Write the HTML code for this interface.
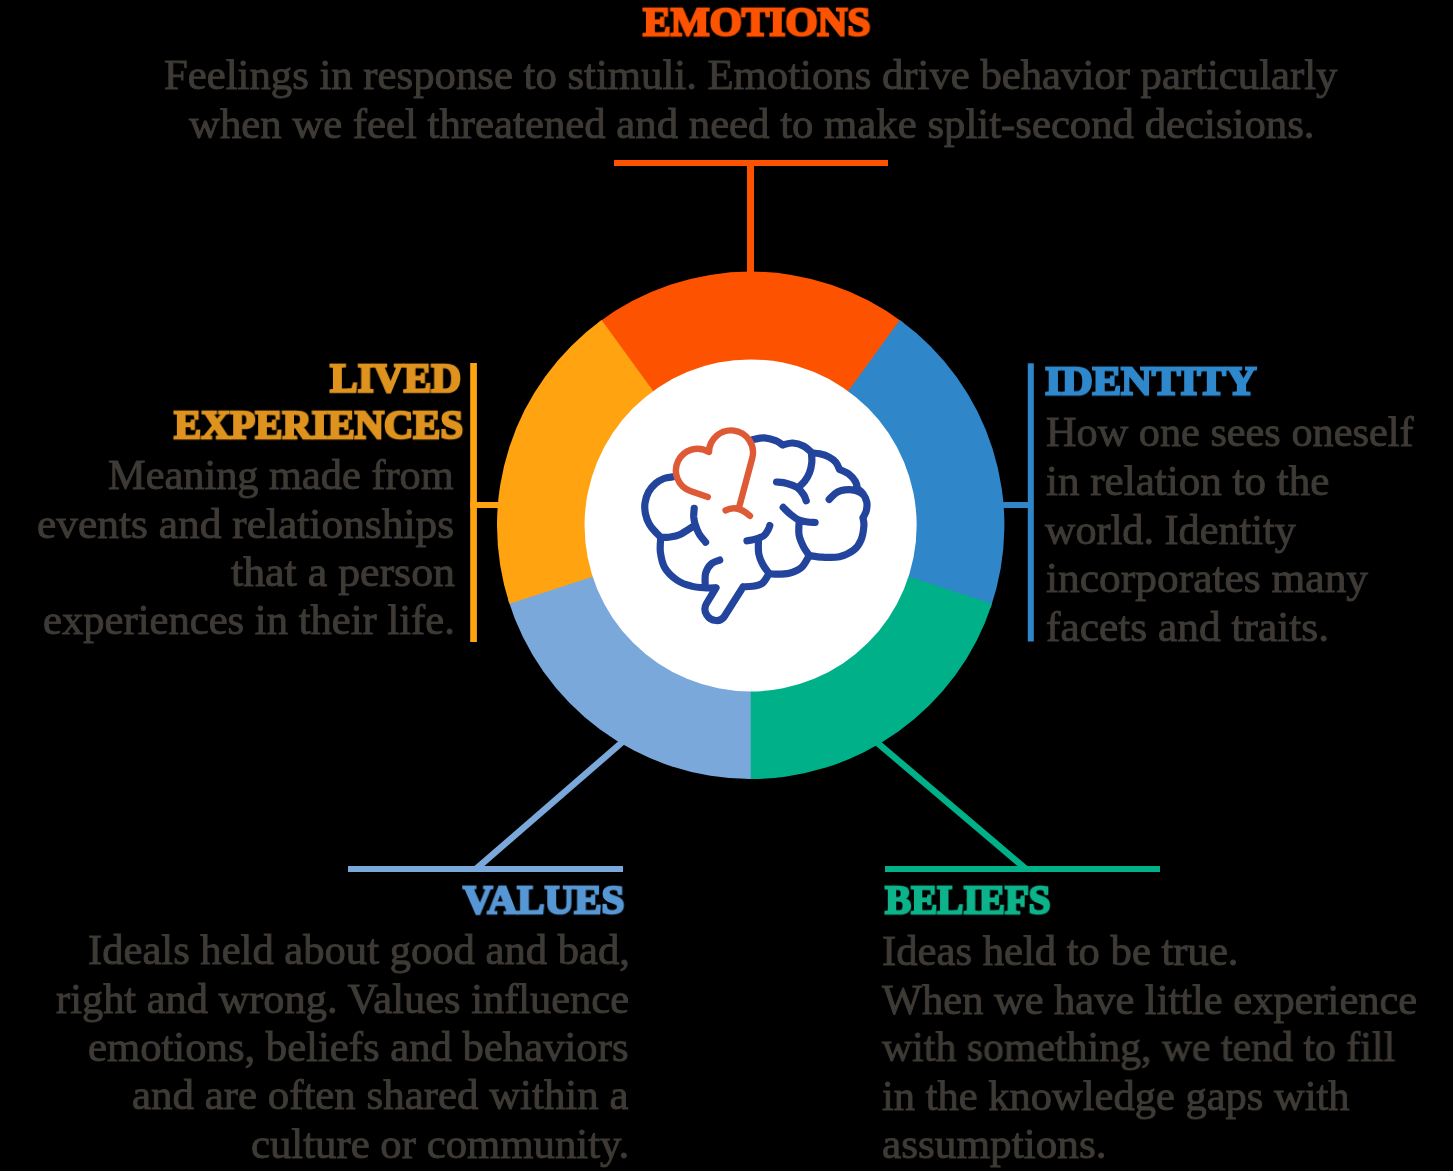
<!DOCTYPE html>
<html><head><meta charset="utf-8"><style>
html,body{margin:0;padding:0;background:#000;}
body{width:1453px;height:1171px;position:relative;overflow:hidden;font-family:'Liberation Serif', serif;}
.t div{position:absolute;white-space:nowrap;line-height:1;transform-origin:0 0;will-change:transform;}
svg{position:absolute;left:0;top:0;}
</style></head><body>
<svg width="1453" height="1171" viewBox="0 0 1453 1171">

<rect x="614" y="160" width="274" height="6" fill="#fd5300"/>
<rect x="747" y="160" width="7" height="130" fill="#fd5300"/>
<rect x="470.2" y="363" width="6.7" height="279" fill="#ffa311"/>
<rect x="470.2" y="502" width="40" height="6" fill="#ffa311"/>
<rect x="1027.8" y="363.3" width="6" height="278.2" fill="#2f86c9"/>
<rect x="990" y="502" width="40" height="6" fill="#2f86c9"/>
<rect x="348" y="866" width="275" height="6" fill="#7ba8da"/>
<line x1="475.4" y1="869.5" x2="640.4" y2="726.4" stroke="#7ba8da" stroke-width="6.5"/>
<rect x="885" y="866" width="275" height="6" fill="#00b088"/>
<line x1="1026.5" y1="869.5" x2="857.5" y2="726" stroke="#00b088" stroke-width="6.5"/>

<path d="M750.7 525.3 L598.02 322.69 A253.7 253.7 0 0 1 903.38 322.69 Z" fill="#fd5300"/><path d="M750.7 525.3 L899.82 320.05 A253.7 253.7 0 0 1 990.58 607.90 Z" fill="#2f86c9"/><path d="M750.7 525.3 L991.98 603.70 A253.7 253.7 0 0 1 746.27 778.96 Z" fill="#00b088"/><path d="M750.7 525.3 L750.70 779.00 A253.7 253.7 0 0 1 508.09 599.47 Z" fill="#7ba8da"/><path d="M750.7 525.3 L509.42 603.70 A253.7 253.7 0 0 1 601.58 320.05 Z" fill="#ffa311"/><circle cx="750.6" cy="525.45" r="166.05" fill="#fff"/>
<path d="M673.0 476.8 C671.5 477.1 666.9 477.4 664.0 478.5 C661.1 479.6 658.1 481.2 655.5 483.5 C652.9 485.8 650.2 488.8 648.5 492.0 C646.8 495.2 645.5 499.3 645.0 503.0 C644.5 506.7 644.8 510.4 645.5 514.0 C646.2 517.6 647.8 521.5 649.5 524.5 C651.2 527.5 653.6 529.9 655.5 532.0 C657.4 534.1 659.9 536.3 660.8 537.2 M660.8 537.2 C660.7 539.7 659.7 547.1 660.4 552.3 C661.1 557.5 662.2 563.5 665.0 568.2 C667.8 572.9 672.9 577.4 677.3 580.4 C681.7 583.4 686.4 584.9 691.3 586.1 C696.1 587.4 702.3 587.6 706.4 587.9 C710.5 588.2 714.4 587.8 716.0 587.8 M743.2 586.8 C744.8 586.7 749.5 586.8 752.6 586.3 C755.7 585.8 759.5 585.2 762.0 583.5 C764.5 581.8 766.5 577.7 767.6 576.0 C768.7 574.3 768.4 573.7 768.6 573.2 M768.6 573.2 C769.7 573.4 771.7 574.1 775.1 574.1 C778.5 574.1 784.8 574.3 789.2 573.2 C793.6 572.1 798.1 570.4 801.4 567.6 C804.7 564.8 807.6 558.2 808.9 556.3 M809.0 555.5 C811.3 555.8 817.5 557.0 822.6 557.2 C827.7 557.4 834.3 557.9 839.5 556.7 C844.7 555.5 850.0 553.0 853.6 550.2 C857.2 547.4 859.4 543.9 861.1 539.8 C862.8 535.7 863.6 529.4 863.9 525.7 C864.2 522.0 863.1 519.1 863.0 517.8 M863.0 517.8 C863.5 516.6 865.7 513.3 866.3 510.7 C866.9 508.1 867.3 505.1 866.8 502.3 C866.2 499.5 864.6 496.1 863.0 493.8 C861.4 491.5 858.3 489.5 857.4 488.6 M857.4 488.6 C857.1 487.4 856.9 484.0 855.5 481.6 C854.1 479.2 851.6 476.1 848.9 474.1 C846.2 472.1 841.1 470.2 839.5 469.4 M839.5 469.4 C838.9 468.2 837.5 464.4 835.8 462.3 C834.1 460.2 831.9 458.5 829.2 457.1 C826.5 455.7 822.8 454.5 819.8 453.8 C816.8 453.1 812.8 453.0 811.4 452.8 M811.4 452.4 C810.1 451.4 807.0 447.9 803.9 446.3 C800.8 444.7 796.1 443.2 792.6 443.0 C789.1 442.8 784.4 444.6 782.7 444.9 M782.7 444.9 C781.5 444.2 778.8 441.9 775.7 440.7 C772.7 439.5 768.3 438.0 764.4 437.8 C760.5 437.6 754.2 439.4 752.2 439.7 M694.2 508.3 C694.1 509.7 693.6 514.1 693.7 516.7 C693.9 519.3 694.2 521.3 695.1 524.1 C696.0 526.9 697.1 530.5 698.9 533.5 C700.6 536.5 704.5 540.8 705.6 542.2 M660.8 537.2 C662.0 537.2 665.1 537.7 668.3 537.2 C671.5 536.7 675.8 536.4 680.1 534.4 C684.4 532.4 691.9 527.0 694.3 525.5 M719.7 560.1 C718.3 560.7 713.6 561.6 711.3 563.8 C708.9 566.0 706.6 569.6 705.6 573.2 C704.6 576.8 705.3 583.4 705.2 585.4 M747.0 540.8 C748.2 540.6 751.7 540.3 754.5 539.4 C757.3 538.5 761.6 537.2 763.9 535.6 C766.2 534.0 767.3 531.2 768.3 529.5 C769.3 527.8 769.5 526.2 769.8 525.5 M758.5 539.4 C758.5 541.8 758.0 549.3 758.7 553.5 C759.4 557.7 761.2 561.5 762.9 564.7 C764.5 567.9 767.6 571.4 768.6 572.7 M776.6 482.0 C778.3 482.2 783.5 482.5 787.0 483.4 C790.5 484.3 794.5 485.7 797.3 487.6 C800.1 489.6 802.4 492.9 803.9 495.1 C805.4 497.3 805.8 499.9 806.2 500.8 M811.4 452.9 C811.5 454.5 812.1 459.0 811.8 462.3 C811.5 465.6 810.7 469.5 809.5 472.6 C808.3 475.7 806.7 478.5 804.8 481.0 C802.9 483.5 799.3 486.5 798.2 487.6 M783.2 507.4 C784.5 508.6 788.1 512.4 790.7 514.5 C793.4 516.6 796.3 518.9 799.1 520.1 C801.9 521.4 804.9 521.6 807.6 522.0 C810.3 522.4 813.9 522.4 815.1 522.5 M799.1 522.0 C799.1 524.2 798.3 530.9 799.1 535.1 C799.9 539.3 802.1 544.0 803.8 547.3 C805.4 550.6 808.1 553.7 809.0 555.0 M829.2 499.4 C830.1 498.5 832.8 495.3 834.8 493.8 C836.8 492.3 839.0 491.2 841.4 490.5 C843.8 489.8 846.5 489.6 848.9 489.6 C851.2 489.6 853.6 490.0 855.5 490.5 C857.4 491.0 859.2 491.9 860.5 492.6 C861.8 493.4 863.0 494.6 863.5 495.0 M716 587.8 L706.5 603.5 C702 611 708 620 716 620.5 C719.5 620.8 722.3 619.2 724 617 L743.2 586.8" fill="none" stroke="#22449c" stroke-width="7.2" stroke-linecap="round" stroke-linejoin="round"/>
<path d="M707.8 497 L690.3 490.9 A21.7 21.7 0 1 1 709.0 452.0 A22 22 0 1 1 752.3 457.9 L739.2 506.9 M725.6 510.4 Q737 504 750 515.8" fill="none" stroke="#de5a37" stroke-width="6.4" stroke-linecap="round" stroke-linejoin="round"/>
</svg>
<div class="t">
<div style="left:642.68px;top:2.12px;font-weight:700;font-size:42px;color:#fd5300;-webkit-text-stroke:2.6px #fd5300;transform:scale(0.9841,0.9563)">EMOTIONS</div>
<div style="left:164.10px;top:54.10px;font-weight:400;font-size:42px;color:#3e3a35;-webkit-text-stroke:0.9px #3e3a35;transform:scaleX(1.0172)">Feelings in response to stimuli. Emotions drive behavior particularly</div>
<div style="left:189.02px;top:102.80px;font-weight:400;font-size:42px;color:#3e3a35;-webkit-text-stroke:0.9px #3e3a35;transform:scaleX(1.0180)">when we feel threatened and need to make split-second decisions.</div>
<div style="left:329.99px;top:358.07px;font-weight:700;font-size:42px;color:#df931f;-webkit-text-stroke:2.6px #df931f;transform:scale(0.9851,0.9656)">LIVED</div>
<div style="left:174.07px;top:404.83px;font-weight:700;font-size:42px;color:#df931f;-webkit-text-stroke:2.6px #df931f;transform:scale(0.9673,0.9531)">EXPERIENCES</div>
<div style="left:108.00px;top:454.30px;font-weight:400;font-size:42px;color:#3e3a35;-webkit-text-stroke:0.9px #3e3a35;transform:scaleX(1.0082)">Meaning made from</div>
<div style="left:36.70px;top:502.60px;font-weight:400;font-size:42px;color:#3e3a35;-webkit-text-stroke:0.9px #3e3a35;transform:scaleX(1.0335)">events and relationships</div>
<div style="left:230.54px;top:550.60px;font-weight:400;font-size:42px;color:#3e3a35;-webkit-text-stroke:0.9px #3e3a35;transform:scaleX(1.0440)">that a person</div>
<div style="left:42.80px;top:599.40px;font-weight:400;font-size:42px;color:#3e3a35;-webkit-text-stroke:0.9px #3e3a35;transform:scaleX(1.0149)">experiences in their life.</div>
<div style="left:1045.12px;top:361.42px;font-weight:700;font-size:42px;color:#2f88cc;-webkit-text-stroke:2.6px #2f88cc;transform:scale(1.0186,0.9563)">IDENTITY</div>
<div style="left:1045.80px;top:411.30px;font-weight:400;font-size:42px;color:#3e3a35;-webkit-text-stroke:0.9px #3e3a35;transform:scaleX(1.0066)">How one sees oneself</div>
<div style="left:1045.80px;top:460.00px;font-weight:400;font-size:42px;color:#3e3a35;-webkit-text-stroke:0.9px #3e3a35;transform:scaleX(1.0254)">in relation to the</div>
<div style="left:1045.20px;top:508.70px;font-weight:400;font-size:42px;color:#3e3a35;-webkit-text-stroke:0.9px #3e3a35;transform:scaleX(1.0048)">world. Identity</div>
<div style="left:1045.80px;top:557.00px;font-weight:400;font-size:42px;color:#3e3a35;-webkit-text-stroke:0.9px #3e3a35;transform:scaleX(1.0343)">incorporates many</div>
<div style="left:1045.80px;top:605.70px;font-weight:400;font-size:42px;color:#3e3a35;-webkit-text-stroke:0.9px #3e3a35;transform:scaleX(1.0327)">facets and traits.</div>
<div style="left:463.06px;top:880.03px;font-weight:700;font-size:42px;color:#5697d4;-webkit-text-stroke:2.6px #5697d4;transform:scale(0.9790,0.9531)">VALUES</div>
<div style="left:88.10px;top:929.40px;font-weight:400;font-size:42px;color:#3e3a35;-webkit-text-stroke:0.9px #3e3a35;transform:scaleX(1.0143)">Ideals held about good and bad,</div>
<div style="left:56.00px;top:977.80px;font-weight:400;font-size:42px;color:#3e3a35;-webkit-text-stroke:0.9px #3e3a35;transform:scaleX(1.0101)">right and wrong. Values influence</div>
<div style="left:88.10px;top:1025.80px;font-weight:400;font-size:42px;color:#3e3a35;-webkit-text-stroke:0.9px #3e3a35;transform:scaleX(1.0162)">emotions, beliefs and behaviors</div>
<div style="left:132.30px;top:1074.00px;font-weight:400;font-size:42px;color:#3e3a35;-webkit-text-stroke:0.9px #3e3a35;transform:scaleX(1.0209)">and are often shared within a</div>
<div style="left:251.30px;top:1122.90px;font-weight:400;font-size:42px;color:#3e3a35;-webkit-text-stroke:0.9px #3e3a35;transform:scaleX(1.0178)">culture or community.</div>
<div style="left:884.83px;top:880.42px;font-weight:700;font-size:42px;color:#0db38a;-webkit-text-stroke:2.6px #0db38a;transform:scale(0.9330,0.9562)">BELIEFS</div>
<div style="left:882.20px;top:930.10px;font-weight:400;font-size:42px;color:#3e3a35;-webkit-text-stroke:0.9px #3e3a35;transform:scaleX(1.0155)">Ideas held to be true.</div>
<div style="left:882.21px;top:978.70px;font-weight:400;font-size:42px;color:#3e3a35;-webkit-text-stroke:0.9px #3e3a35;transform:scaleX(1.0109)">When we have little experience</div>
<div style="left:882.20px;top:1026.20px;font-weight:400;font-size:42px;color:#3e3a35;-webkit-text-stroke:0.9px #3e3a35;transform:scaleX(0.9952)">with something, we tend to fill</div>
<div style="left:882.20px;top:1074.70px;font-weight:400;font-size:42px;color:#3e3a35;-webkit-text-stroke:0.9px #3e3a35;transform:scaleX(1.0121)">in the knowledge gaps with</div>
<div style="left:882.20px;top:1123.00px;font-weight:400;font-size:42px;color:#3e3a35;-webkit-text-stroke:0.9px #3e3a35;transform:scaleX(1.0290)">assumptions.</div>
</div>
</body></html>
